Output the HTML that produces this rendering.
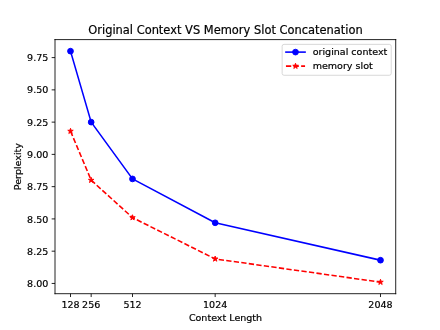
<!DOCTYPE html>
<html lang="en"><head><meta charset="utf-8"><title>Original Context VS Memory Slot Concatenation</title>
<style>html,body{margin:0;padding:0;background:#fff;overflow:hidden}svg{display:block}text{font-family:"DejaVu Sans","Liberation Sans",sans-serif;fill:#000;stroke:#000;stroke-width:.2px;stroke-linejoin:round}.t{font-size:10px}.ti{font-size:12px}.ax{stroke:#000;stroke-width:.9;fill:none;stroke-linecap:square}.tk{stroke:#000;stroke-width:.9}</style>
</head><body>
<svg width="440" height="330" viewBox="0 0 460.8 345.6">
<rect width="460.8" height="345.6" fill="#fff"/>
<line class="tk" x1="73.833" y1="307.584" x2="73.833" y2="311.084"/>
<text class="t" text-anchor="middle" x="73.833" y="322.182">128</text>
<line class="tk" x1="95.476" y1="307.584" x2="95.476" y2="311.084"/>
<text class="t" text-anchor="middle" x="95.476" y="322.182">256</text>
<line class="tk" x1="138.764" y1="307.584" x2="138.764" y2="311.084"/>
<text class="t" text-anchor="middle" x="138.764" y="322.182">512</text>
<line class="tk" x1="225.338" y1="307.584" x2="225.338" y2="311.084"/>
<text class="t" text-anchor="middle" x="225.338" y="322.182">1024</text>
<line class="tk" x1="398.487" y1="307.584" x2="398.487" y2="311.084"/>
<text class="t" text-anchor="middle" x="398.487" y="322.182">2048</text>
<text class="t" text-anchor="middle" x="236.16" y="335.861">Context Length</text>
<line class="tk" x1="57.6" y1="296.84" x2="54.1" y2="296.84"/>
<text class="t" text-anchor="end" x="50.6" y="300.639">8.00</text>
<line class="tk" x1="57.6" y1="263.052" x2="54.1" y2="263.052"/>
<text class="t" text-anchor="end" x="50.6" y="266.851">8.25</text>
<line class="tk" x1="57.6" y1="229.264" x2="54.1" y2="229.264"/>
<text class="t" text-anchor="end" x="50.6" y="233.063">8.50</text>
<line class="tk" x1="57.6" y1="195.476" x2="54.1" y2="195.476"/>
<text class="t" text-anchor="end" x="50.6" y="199.275">8.75</text>
<line class="tk" x1="57.6" y1="161.689" x2="54.1" y2="161.689"/>
<text class="t" text-anchor="end" x="50.6" y="165.488">9.00</text>
<line class="tk" x1="57.6" y1="127.901" x2="54.1" y2="127.901"/>
<text class="t" text-anchor="end" x="50.6" y="131.7">9.25</text>
<line class="tk" x1="57.6" y1="94.113" x2="54.1" y2="94.113"/>
<text class="t" text-anchor="end" x="50.6" y="97.912">9.50</text>
<line class="tk" x1="57.6" y1="60.326" x2="54.1" y2="60.326"/>
<text class="t" text-anchor="end" x="50.6" y="64.125">9.75</text>
<text class="t" text-anchor="middle" x="22.255" y="174.528" transform="rotate(-90 22.255 174.528)">Perplexity</text>
<path d="M73.833 53.568 L95.476 127.901 L138.764 187.367 L225.338 233.319 L398.487 272.512" fill="none" stroke="#00f" stroke-width="1.65" stroke-linecap="square" stroke-linejoin="round"/>
<circle cx="73.833" cy="53.568" r="3" fill="#00f" stroke="#00f" stroke-width="1"/>
<circle cx="95.476" cy="127.901" r="3" fill="#00f" stroke="#00f" stroke-width="1"/>
<circle cx="138.764" cy="187.367" r="3" fill="#00f" stroke="#00f" stroke-width="1"/>
<circle cx="225.338" cy="233.319" r="3" fill="#00f" stroke="#00f" stroke-width="1"/>
<circle cx="398.487" cy="272.512" r="3" fill="#00f" stroke="#00f" stroke-width="1"/>
<path d="M73.833 137.362 L95.476 188.719 L138.764 227.913 L225.338 271.161 L398.487 295.488" fill="none" stroke="#f00" stroke-width="1.65" stroke-dasharray="5.55 2.4" stroke-linejoin="round"/>
<path d="M0 -3L-.674 -.927L-2.853 -.927L-1.09 .354L-1.763 2.427L0 1.146L1.763 2.427L1.09 .354L2.853 -.927L.674 -.927Z" transform="translate(73.833 137.362)" fill="#f00" stroke="#f00" stroke-width="1" stroke-linejoin="bevel"/>
<path d="M0 -3L-.674 -.927L-2.853 -.927L-1.09 .354L-1.763 2.427L0 1.146L1.763 2.427L1.09 .354L2.853 -.927L.674 -.927Z" transform="translate(95.476 188.719)" fill="#f00" stroke="#f00" stroke-width="1" stroke-linejoin="bevel"/>
<path d="M0 -3L-.674 -.927L-2.853 -.927L-1.09 .354L-1.763 2.427L0 1.146L1.763 2.427L1.09 .354L2.853 -.927L.674 -.927Z" transform="translate(138.764 227.913)" fill="#f00" stroke="#f00" stroke-width="1" stroke-linejoin="bevel"/>
<path d="M0 -3L-.674 -.927L-2.853 -.927L-1.09 .354L-1.763 2.427L0 1.146L1.763 2.427L1.09 .354L2.853 -.927L.674 -.927Z" transform="translate(225.338 271.161)" fill="#f00" stroke="#f00" stroke-width="1" stroke-linejoin="bevel"/>
<path d="M0 -3L-.674 -.927L-2.853 -.927L-1.09 .354L-1.763 2.427L0 1.146L1.763 2.427L1.09 .354L2.853 -.927L.674 -.927Z" transform="translate(398.487 295.488)" fill="#f00" stroke="#f00" stroke-width="1" stroke-linejoin="bevel"/>
<path class="ax" d="M57.6 307.584V41.472M414.42 307.584V41.472M57.6 307.584H414.42M57.6 41.472H414.42"/>
<text class="ti" text-anchor="middle" x="236.16" y="35.472">Original Context VS Memory Slot Concatenation</text>
<rect x="295.472" y="46.472" width="114.248" height="32.356" rx="2" ry="2" fill="#fff" fill-opacity=".8" stroke="#ccc" stroke-opacity=".8" stroke-width="1"/>
<path d="M299.472 54.57H319.472" fill="none" stroke="#00f" stroke-width="1.65" stroke-linecap="square"/>
<circle cx="309.472" cy="54.57" r="3" fill="#00f" stroke="#00f" stroke-width="1"/>
<text class="t" x="327.472" y="58.07">original context</text>
<path d="M299.472 69.249H319.472" fill="none" stroke="#f00" stroke-width="1.65" stroke-dasharray="5.55 2.4"/>
<path d="M0 -3L-.674 -.927L-2.853 -.927L-1.09 .354L-1.763 2.427L0 1.146L1.763 2.427L1.09 .354L2.853 -.927L.674 -.927Z" transform="translate(309.472 69.249)" fill="#f00" stroke="#f00" stroke-width="1" stroke-linejoin="bevel"/>
<text class="t" x="327.472" y="72.749">memory slot</text>
</svg></body></html>
